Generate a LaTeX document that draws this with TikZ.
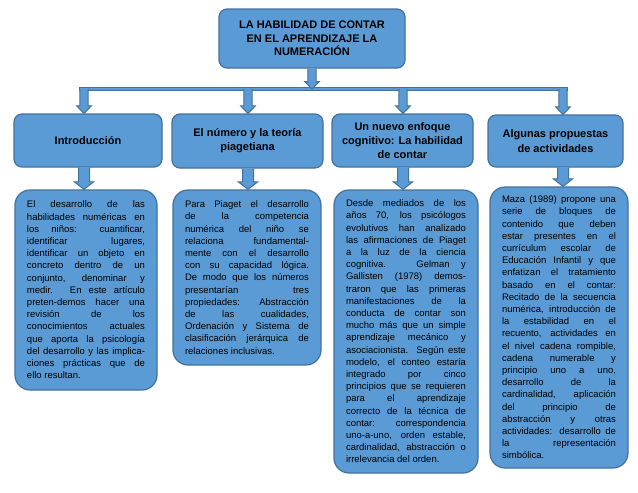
\documentclass[tikz,border=0pt]{standalone}
\usepackage{fontspec}
\setmainfont{Liberation Sans}
\usepackage{xcolor}
\usepackage{tikz}
\usetikzlibrary{calc}
\definecolor{azul}{HTML}{5B9BD5}
\definecolor{borde}{HTML}{41719C}
\tikzset{
  caja/.style = {rectangle, rounded corners=8pt, draw=borde, fill=azul, line width=1.2pt, text=black, align=center, inner sep=0pt},
  titulo/.style = {caja, font={\fontsize{11}{13.3}\selectfont\bfseries}},
  tema/.style = {caja, font={\fontsize{11}{14.2}\selectfont\bfseries}},
  detalle/.style = {caja, rounded corners=15pt, align=justify, inner xsep=12pt, inner ysep=0pt,
    font={\fontsize{9.5}{12.2}\selectfont\tolerance=10000\hbadness=10000}},
  flecha/.style = {draw=borde, fill=azul, line width=1pt, line join=miter},
  barra/.style = {draw=borde, fill=azul, line width=0.8pt}
}
% fat arrow from #2 down to #3, #1 = half shaft width
\newcommand{\flecha}[3][4.2]{\draw [flecha] let \p1 = (#2), \p2 = (#3) in
  (\x1-#1pt, \y1) -- (\x1-#1pt, \y2+7.5pt) -- (\x1-1.75*#1pt, \y2+7.5pt) -- (\x1, \y2)
  -- (\x1+1.75*#1pt, \y2+7.5pt) -- (\x1+#1pt, \y2+7.5pt) -- (\x1+#1pt, \y1);}

\begin{document}
\begin{tikzpicture}[x=1pt, y=-1pt]
\useasboundingbox (0,0) rectangle (638,493);
\node [titulo, minimum width=186pt, minimum height=59pt] (titulo) at (312, 38.5) {LA HABILIDAD DE CONTAR\\EN EL APRENDIZAJE LA\\NUMERACIÓN};

% junctions on the bar
\coordinate (j1) at (84, 89);
\coordinate (j2) at (248, 89);
\coordinate (j3) at (403, 89);
\coordinate (j4) at (563, 89);
\draw [barra] ($(j1)+(-4.2,-1.6)$) rectangle ($(j4)+(4.2,1.6)$);

\node [tema, minimum width=148pt, minimum height=53pt] (intro) at (88, 140.5) {Introducción};
\node [tema, minimum width=151pt, minimum height=54pt] (numero) at (247.5, 141) {El número y la teoría\\piagetiana};
\node [tema, minimum width=141pt, minimum height=53pt] (enfoque) at (402.5, 140.5) {Un nuevo enfoque\\cognitivo: La habilidad\\de contar};
\node [tema, minimum width=135pt, minimum height=52pt] (propuestas) at (555.5, 141) {Algunas propuestas\\de actividades};

\node [detalle, text width=118pt, minimum height=200pt] (det1) at (86, 290) {El desarrollo de las\linebreak
habilidades numéricas en\linebreak
los niños: cuantificar,\linebreak
identificar lugares,\linebreak
identificar un objeto en\linebreak
concreto dentro de un\linebreak
conjunto, denominar y\linebreak
medir. En este artículo\linebreak
preten-demos hacer una\linebreak
revisión de los\linebreak
conocimientos actuales\linebreak
que aporta la psicología\linebreak
del desarrollo y las implica-\linebreak
ciones prácticas que de\linebreak
ello resultan.};

\node [detalle, text width=124pt, minimum height=175pt] (det2) at (247, 277.5) {Para Piaget el desarrollo\linebreak
de la competencia\linebreak
numérica del niño se\linebreak
relaciona fundamental-\linebreak
mente con el desarrollo\linebreak
con su capacidad lógica.\linebreak
De modo que los números\linebreak
presentarían tres\linebreak
propiedades: Abstracción\linebreak
de las cualidades,\linebreak
Ordenación y Sistema de\linebreak
clasificación jerárquica de\linebreak
relaciones inclusivas.};

\node [detalle, text width=120pt, minimum height=283pt] (det3) at (406, 331.5) {Desde mediados de los\linebreak
años 70, los psicólogos\linebreak
evolutivos han analizado\linebreak
las afirmaciones de Piaget\linebreak
a la luz de la ciencia\linebreak
cognitiva. Gelman y\linebreak
Gallisten (1978) demos-\linebreak
traron que las primeras\linebreak
manifestaciones de la\linebreak
conducta de contar son\linebreak
mucho más que un simple\linebreak
aprendizaje mecánico y\linebreak
asociacionista. Según este\linebreak
modelo, el conteo estaría\linebreak
integrado por cinco\linebreak
principios que se requieren\linebreak
para el aprendizaje\linebreak
correcto de la técnica de\linebreak
contar: correspondencia\linebreak
uno-a-uno, orden estable,\linebreak
cardinalidad, abstracción o\linebreak
irrelevancia del orden.};

\node [detalle, text width=114pt, minimum height=281pt] (det4) at (559, 327.5) {Maza (1989) propone una\linebreak
serie de bloques de\linebreak
contenido que deben\linebreak
estar presentes en el\linebreak
currículum escolar de\linebreak
Educación Infantil y que\linebreak
enfatizan el tratamiento\linebreak
basado en el contar:\linebreak
Recitado de la secuencia\linebreak
numérica, introducción de\linebreak
la estabilidad en el\linebreak
recuento, actividades en\linebreak
el nivel cadena rompible,\linebreak
cadena numerable y\linebreak
principio uno a uno,\linebreak
desarrollo de la\linebreak
cardinalidad, aplicación\linebreak
del principio de\linebreak
abstracción y otras\linebreak
actividades: desarrollo de\linebreak
la representación\linebreak
simbólica.};

% arrows
\flecha[4.2]{titulo.south}{titulo.south |- j1}
\flecha{j1}{j1 |- intro.north}
\flecha{j2}{j2 |- numero.north}
\flecha{j3}{j3 |- enfoque.north}
\flecha{j4}{j4 |- propuestas.north}
\flecha[5.5]{j1 |- intro.south}{j1 |- det1.north}
\flecha[5.5]{j2 |- numero.south}{j2 |- det2.north}
\flecha[5.5]{j3 |- enfoque.south}{j3 |- det3.north}
\flecha[5.5]{j4 |- propuestas.south}{j4 |- det4.north}
\end{tikzpicture}
\end{document}
